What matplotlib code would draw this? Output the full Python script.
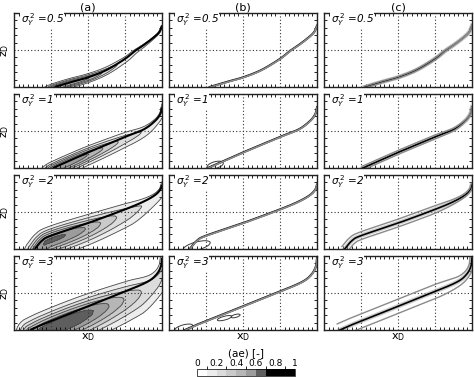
import numpy as np
import matplotlib
matplotlib.use("Agg")
import matplotlib.pyplot as plt
from matplotlib.colors import ListedColormap, BoundaryNorm
from matplotlib.patches import Ellipse
from matplotlib.ticker import MultipleLocator

# ---------------- data ----------------
col_titles = ["(a)", "(b)", "(c)"]
row_labels = ["0.5", "1", "2", "3"]

# front (black line) control points per row, x_D / z_D
front_x = [
    [1.10, 1.50, 2.00, 2.50, 3.00, 3.25, 3.50, 3.75, 3.92, 4.00],
    [1.05, 1.50, 2.00, 2.50, 3.00, 3.50, 3.80, 3.95, 4.00],
    [0.56, 0.75, 1.00, 2.00, 3.00, 3.50, 3.80, 3.95, 4.00],
    [0.43, 0.70, 1.00, 2.00, 3.00, 3.60, 3.85, 3.97, 4.00],
]
front_y = [
    [0.00, 0.12, 0.26, 0.46, 0.76, 0.96, 1.13, 1.32, 1.48, 1.66],
    [0.00, 0.20, 0.42, 0.63, 0.84, 1.04, 1.26, 1.45, 1.64],
    [0.00, 0.22, 0.36, 0.70, 1.07, 1.28, 1.45, 1.60, 1.74],
    [0.00, 0.12, 0.24, 0.64, 1.04, 1.30, 1.50, 1.72, 1.95],
]

# column (a) plume parameters per row
plume_offset = [-0.02, -0.05, -0.11, -0.17]
plume_w_up = [0.07, 0.12, 0.19, 0.26]
plume_w_down = [0.07, 0.15, 0.25, 0.36]
plume_peak = [0.50, 0.56, 0.62, 0.695]
plume_peak_pos = [0.30, 0.40, 0.60, 0.90]
plume_decay = [1.2, 1.5, 1.7, 2.0]
plume_base = [0.12, 0.15, 0.15, 0.15]

# column (b) small closed contours: (row, x, y, width, height)
blob_row = [1, 2, 3, 3, 3]
blob_x = [1.25, 0.75, 0.40, 1.50, 1.80]
blob_y = [0.08, 0.08, 0.06, 0.32, 0.38]
blob_w = [0.45, 0.75, 0.50, 0.40, 0.25]
blob_h = [0.18, 0.22, 0.16, 0.10, 0.08]

# column (c) envelope half-widths per row
envelope = [0.025, 0.05, 0.10, 0.18]

# colour scale
levels = [0, 0.1, 0.2, 0.3, 0.4, 0.5, 0.6, 0.7, 0.8, 0.9, 1.0]
shades = ['#ffffff', '#ededed', '#dcdcdc', '#cacaca', '#b6b6b6',
          '#9c9c9c', '#5e5e5e', '#000000', '#000000', '#000000']
cbar_ticks = [0, 0.2, 0.4, 0.6, 0.8, 1]


def catmull(px, py, n=40):
    P = np.column_stack([px, py]).astype(float)
    P = np.vstack([2 * P[0] - P[1], P, 2 * P[-1] - P[-2]])
    out = []
    t = np.linspace(0, 1, n, endpoint=False)[:, None]
    for i in range(1, len(P) - 2):
        p0, p1, p2, p3 = P[i - 1], P[i], P[i + 1], P[i + 2]
        pts = 0.5 * ((2 * p1) + (-p0 + p2) * t + (2 * p0 - 5 * p1 + 4 * p2 - p3) * t ** 2
                     + (-p0 + 3 * p1 - 3 * p2 + p3) * t ** 3)
        out.append(pts)
    out.append(P[-2][None])
    return np.vstack(out)


def normals(C):
    T = np.gradient(C, axis=0)
    T /= np.linalg.norm(T, axis=1)[:, None]
    return np.column_stack([-T[:, 1], T[:, 0]]), T


def arclen(C):
    seg = np.linalg.norm(np.diff(C, axis=0), axis=1)
    return np.concatenate([[0], np.cumsum(seg)])


def taper(s, s_end, span=1.3, amount=0.6):
    u = np.clip((s - (s_end - span)) / span, 0, 1)
    return 1 - amount * u * u * (3 - 2 * u)


def plume_field(r, X, Y):
    C = catmull(front_x[r], front_y[r])
    s_end = arclen(C)[-1]
    t0 = C[1] - C[0]
    t0 /= np.linalg.norm(t0)
    ext = C[0] - np.linspace(0.8, 0.0, 40, endpoint=False)[:, None] * t0
    t1 = C[-1] - C[-2]
    t1 /= np.linalg.norm(t1)
    ext2 = C[-1] + np.linspace(0.0, 0.5, 20)[1:, None] * t1
    CC = np.vstack([ext, C, ext2])
    s = arclen(CC)
    s -= s[len(ext)]
    _, T = normals(CC)
    P = np.column_stack([X.ravel(), Y.ravel()])
    D = np.sqrt(((P[:, None, :] - CC[None, :, :]) ** 2).sum(-1))
    idx = D.argmin(axis=1)
    dist = D[np.arange(len(P)), idx]
    V = P - CC[idx]
    cross = T[idx, 0] * V[:, 1] - T[idx, 1] * V[:, 0]
    d = np.sign(cross) * dist
    sp = s[idx]
    g = taper(sp, s_end)
    m = plume_offset[r] * g
    w = np.where(d > m, plume_w_up[r], plume_w_down[r]) * g
    A = plume_base[r] + (plume_peak[r] - plume_base[r]) * np.exp(
        -((sp - plume_peak_pos[r]) / plume_decay[r]) ** 2)
    A = np.where(sp < 0, A * np.exp(-(sp / 0.35) ** 2), A)
    F = A * np.exp(-0.5 * ((d - m) / w) ** 2)
    return F.reshape(X.shape)


cmap = ListedColormap(shades)
norm = BoundaryNorm(levels, cmap.N)

fig = plt.figure(figsize=(4.74, 3.77), dpi=100)
W, H = 474.0, 377.0
col_left = [14, 169, 324]
col_w = 148
row_top = [13, 94, 175, 256]
row_h = 74

gx = np.linspace(0, 4, 201)
gy = np.linspace(0, 2, 101)
GX, GY = np.meshgrid(gx, gy)

for r in range(4):
    C = catmull(front_x[r], front_y[r])
    N, _ = normals(C)
    sC = arclen(C)
    for c in range(3):
        ax = fig.add_axes([col_left[c] / W, 1 - (row_top[r] + row_h) / H, col_w / W, row_h / H])
        ax.set_xlim(0, 4)
        ax.set_ylim(0, 2)
        if c == 0:
            F = plume_field(r, GX, GY)
            ax.contourf(GX, GY, F, levels=levels, cmap=cmap, norm=norm)
            ax.contour(GX, GY, F, levels=levels[1:-1], colors='#4a4a4a', linewidths=0.6)
            ax.plot(C[:, 0], C[:, 1], color='k', lw=1.5, solid_capstyle='butt')
        elif c == 1:
            ax.plot(C[:, 0], C[:, 1], color='k', lw=1.5)
            ax.plot(C[:, 0], C[:, 1] - 0.008, color='#8c8c8c', lw=1.2)
            for b in range(len(blob_row)):
                if blob_row[b] == r:
                    ax.add_patch(Ellipse((blob_x[b], blob_y[b]), blob_w[b], blob_h[b],
                                         angle=15, fill=False, ec='#3a3a3a', lw=0.7))
        else:
            e = envelope[r] * taper(sC, sC[-1], span=1.5, amount=0.7)[:, None]
            ax.plot(C[:, 0], C[:, 1], color='#9a9a9a', lw=3.2, alpha=0.5)
            ax.plot(C[:, 0], C[:, 1], color='k', lw=1.2)
            up = C + e * N
            dn = C - e * N
            ax.plot(up[:, 0], up[:, 1], color='#8a8a8a', lw=1.0)
            ax.plot(dn[:, 0], dn[:, 1], color='#8a8a8a', lw=1.0)
        ax.set_xticks([1, 2, 3])
        ax.set_yticks([1])
        ax.xaxis.set_minor_locator(MultipleLocator(0.125))
        ax.yaxis.set_minor_locator(MultipleLocator(0.2))
        ax.grid(True, which='major', color='#333333', ls=(0, (1, 2)), lw=0.8)
        ax.tick_params(which='both', direction='in', top=True, right=True,
                       labelbottom=False, labelleft=False)
        ax.tick_params(which='major', length=0)
        ax.tick_params(which='minor', length=2.5, width=0.6)
        for sp_ in ax.spines.values():
            sp_.set_linewidth(1.0)
            sp_.set_color('#222222')
        ax.text(0.045, 0.80, r'$\sigma_Y^{\,2}$ =' + row_labels[r], transform=ax.transAxes,
                fontsize=7.5, fontstyle='italic', ha='left', va='bottom',
                bbox=dict(fc='white', ec='none', pad=0.5))
        if c == 0:
            ax.set_ylabel(r'$\mathrm{z_D}$', fontsize=8, labelpad=2)
        if r == 0:
            ax.set_title(col_titles[c], fontsize=8, pad=2)
        if r == 3:
            ax.set_xlabel(r'$\mathrm{x_D}$', fontsize=8, labelpad=1)

cax = fig.add_axes([197 / W, 1 - 376 / H, 98 / W, 7 / H])
sm = matplotlib.cm.ScalarMappable(norm=norm, cmap=cmap)
cb = fig.colorbar(sm, cax=cax, orientation='horizontal', ticks=cbar_ticks)
cb.outline.set_linewidth(0.5)
cax.xaxis.set_ticks_position('top')
cax.xaxis.set_label_position('top')
cax.tick_params(length=0, labelsize=6.5, pad=1)
cax.set_xticklabels(['0', '0.2', '0.4', '0.6', '0.8', '1'])
cb.set_label('(ae) [-]', fontsize=7.5, labelpad=2)

fig.savefig('out.png', dpi=100)
